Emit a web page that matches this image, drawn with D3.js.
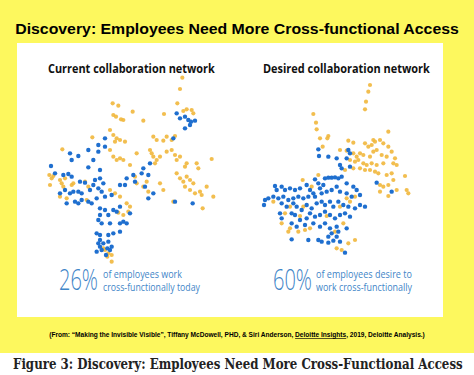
<!DOCTYPE html>
<html lang="en">
<head>
<meta charset="UTF-8">
<title>Discovery</title>
<script src="https://cdn.jsdelivr.net/npm/d3@7"></script>
<style>
  * { margin: 0; }
  body { background: #fff; }
</style>
</head>
<body>
<div id="chart"></div>
<script>
// positions, in a 0..660 grid per network panel
const currentGold = [
  [487,83],[480,117],[278,160],[295,167],[338,185],[280,195],[288,200],[303,208],[310,210],[370,212],
  [432,192],[472,160],[490,183],[500,178],[515,180],[520,190],[217,262],[270,240],[280,255],[290,265],
  [300,270],[285,275],[315,275],[127,298],[400,260],[410,270],[430,272],[440,260],[455,270],[465,258],
  [270,300],[280,320],[290,330],[300,325],[310,330],[350,310],[330,345],[390,300],[395,310],[400,320],
  [410,330],[405,340],[420,320],[440,305],[455,300],[465,315],[470,330],[480,320],[500,340],[495,350],
  [530,340],[535,355],[575,327],[88,375],[95,385],[100,378],[90,405],[120,390],[125,400],[130,410],
  [135,385],[155,405],[160,400],[195,395],[205,410],[345,380],[350,400],[370,410],[380,395],[385,425],
  [420,400],[430,420],[470,370],[480,385],[490,395],[500,380],[510,390],[520,400],[495,410],[510,420],
  [525,430],[540,425],[545,435],[560,410],[580,440],[548,475],[460,455],[120,440],[140,445],[200,450],
  [270,420],[285,430],[300,440],[320,460],[330,470],[325,485],[310,495],[295,488],[255,600],[265,610],
  [275,615],[262,620],[275,635],[250,595]
];
const currentBlue = [
  [470,190],[480,205],[495,200],[505,210],[513,215],[525,212],[510,225],[460,265],[495,235],[255,265],
  [235,285],[255,290],[205,300],[150,310],[175,318],[155,330],[220,330],[235,305],[93,348],[205,352],
  [240,360],[105,370],[145,372],[155,380],[130,375],[180,395],[195,398],[225,390],[240,385],[250,400],
  [120,430],[135,420],[150,430],[160,425],[175,425],[185,430],[210,420],[220,405],[235,415],[245,425],
  [140,460],[165,455],[175,460],[185,450],[205,455],[215,460],[230,445],[255,440],[275,435],[300,405],
  [315,405],[320,385],[340,375],[345,395],[365,370],[370,355],[385,375],[390,340],[400,430],[375,410],
  [240,475],[255,480],[280,480],[290,485],[300,470],[265,495],[240,495],[235,510],[245,520],[270,520],
  [300,520],[310,515],[320,520],[330,490],[230,550],[240,555],[265,555],[280,550],[300,545],[240,570],
  [250,580],[265,575],[275,590],[235,580],[240,590],[245,600],[262,595],[270,600],[230,605],[258,615],
  [465,455],[518,460],[385,445]
];
const desiredGold = [
  [390,105],[385,125],[378,155],[375,178],[220,192],[228,218],[230,238],[265,258],[262,265],[240,265],
  [248,290],[445,245],[400,270],[325,272],[340,278],[375,280],[385,290],[395,285],[405,275],[420,270],
  [430,280],[445,290],[300,300],[320,302],[340,310],[350,320],[360,310],[370,315],[390,320],[400,305],
  [410,300],[425,315],[440,320],[455,305],[465,325],[330,330],[345,335],[355,330],[370,340],[380,345],
  [395,340],[410,345],[430,340],[460,340],[470,345],[315,360],[340,355],[360,355],[375,360],[390,360],
  [405,365],[415,370],[440,375],[455,370],[495,378],[188,390],[235,375],[215,410],[420,405],[430,410],
  [460,390],[445,405],[470,420],[500,420],[505,430],[445,438],[420,425],[100,455],[150,470],[135,490],
  [125,520],[180,498],[190,470],[150,535],[145,545],[175,545],[195,540],[210,535],[260,498],[300,470],
  [320,445],[330,455],[345,440],[290,595],[305,600],[325,580],[345,570],[310,520],[285,545]
];
const desiredBlue = [
  [235,298],[237,318],[265,320],[290,325],[325,300],[330,310],[320,325],[300,345],[305,355],[330,350],
  [255,385],[265,383],[275,383],[285,382],[295,385],[305,380],[225,388],[235,400],[250,405],[240,415],
  [105,408],[110,420],[125,410],[135,420],[150,415],[165,420],[180,415],[200,405],[210,420],[220,430],
  [75,450],[72,465],[85,445],[100,440],[115,445],[130,440],[145,450],[160,445],[175,440],[190,445],
  [205,440],[225,440],[245,430],[260,425],[275,420],[290,410],[320,400],[340,410],[350,420],[320,430],
  [300,425],[335,440],[360,435],[410,398],[455,425],[125,460],[140,470],[160,460],[170,470],[185,480],
  [200,465],[215,475],[230,460],[245,455],[255,465],[270,455],[280,470],[295,455],[310,465],[325,470],
  [345,475],[360,465],[375,470],[120,490],[125,505],[155,490],[165,495],[180,510],[200,505],[210,490],
  [225,500],[240,495],[255,485],[270,495],[285,505],[300,495],[315,490],[330,500],[155,520],[170,530],
  [195,525],[220,520],[240,530],[255,520],[270,535],[290,530],[320,535],[155,568],[205,570],[235,570],
  [245,575],[265,560],[275,550],[290,560],[300,575],[280,572],[265,578],[315,608],[295,545]
];

const panelTitles = ["Current collaboration network", "Desired collaboration network"];
const shares = [26, 60];
const shareLines = [
  ["of employees work", "cross-functionally today"],
  ["of employees desire to", "work cross-functionally"]
];

const W = 474, H = 375;
const gold = "#f1b73c", blue = "#1f6fcf", statBlue = "#3f86c8";

const svg = d3.select("#chart").append("svg")
  .attr("width", W).attr("height", H);

// squeeze a text horizontally to a given width (the original uses condensed faces)
function fit(sel, x, y, w) {
  const len = sel.node().getComputedTextLength();
  sel.attr("transform", `translate(${x},${y}) scale(${w / len},1)`);
  return sel;
}

// backgrounds
svg.append("rect").attr("width", W).attr("height", H).attr("fill", "#fff");
svg.append("rect").attr("width", W).attr("height", 353).attr("fill", "#fdf85e");
svg.append("rect").attr("x", 17).attr("y", 43).attr("width", 426).attr("height", 274).attr("fill", "#fff");

fit(svg.append("text")
  .attr("text-anchor", "middle")
  .attr("font-family", "Liberation Sans, Arial, sans-serif")
  .attr("font-weight", "bold").attr("font-size", 15.5)
  .text("Discovery:  Employees Need More Cross-functional Access"), 237, 34, 444);

const y = d3.scaleLinear().domain([0, 660]).range([50, 270]);
const panels = [
  { x: d3.scaleLinear().domain([0, 660]).range([20, 240]), gold: currentGold, blue: currentBlue, tx: 48, tw: 167, sx: 59, sw: 39, lx: 103, lw: [79, 97] },
  { x: d3.scaleLinear().domain([0, 660]).range([240, 460]), gold: desiredGold, blue: desiredBlue, tx: 263, tw: 167, sx: 273, sw: 39, lx: 316, lw: [96, 96] }
];

panels.forEach((p, i) => {
  const g = svg.append("g");
  fit(g.append("text")
    .attr("font-family", "Open Sans, sans-serif")
    .attr("font-weight", "bold").attr("font-size", 13)
    .attr("fill", "#111")
    .text(panelTitles[i]), p.tx, 73, p.tw);

  g.selectAll("circle.gold").data(p.gold).enter().append("circle")
    .attr("class", "gold")
    .attr("cx", d => p.x(d[0])).attr("cy", d => y(d[1]))
    .attr("r", 2.1).attr("fill", gold).attr("fill-opacity", 0.9);

  g.selectAll("circle.blue").data(p.blue).enter().append("circle")
    .attr("class", "blue")
    .attr("cx", d => p.x(d[0])).attr("cy", d => y(d[1]))
    .attr("r", 2.2).attr("fill", blue);

  fit(g.append("text")
    .attr("font-family", "Open Sans, sans-serif")
    .attr("font-weight", 300).attr("font-size", 30)
    .attr("fill", statBlue)
    .text(shares[i] + "%"), p.sx, 290, p.sw);

  shareLines[i].forEach((t, j) => {
    fit(g.append("text")
      .attr("font-family", "Open Sans, sans-serif")
      .attr("font-size", 10.5)
      .attr("fill", statBlue)
      .text(t), p.lx, 278 + j * 13, p.lw[j]);
  });
});

// source line
const src = svg.append("text")
  .attr("text-anchor", "middle")
  .attr("font-family", "Liberation Sans, Arial, sans-serif")
  .attr("font-weight", "bold").attr("font-size", 6.6);
src.append("tspan").text("(From: \u201cMaking the Invisible Visible\u201d, Tiffany McDowell, PHD, & Siri Anderson, ");
src.append("tspan").attr("text-decoration", "underline").text("Deloitte Insights");
src.append("tspan").text(", 2019, Deloitte Analysis.)");
fit(src, 237, 337, 376);

fit(svg.append("text")
  .attr("font-family", "DejaVu Serif, Georgia, serif")
  .attr("font-weight", "bold").attr("font-size", 14.5)
  .attr("fill", "#222")
  .text("Figure 3: Discovery: Employees Need More Cross-Functional Access"), 13, 369, 450);
</script>
</body>
</html>
